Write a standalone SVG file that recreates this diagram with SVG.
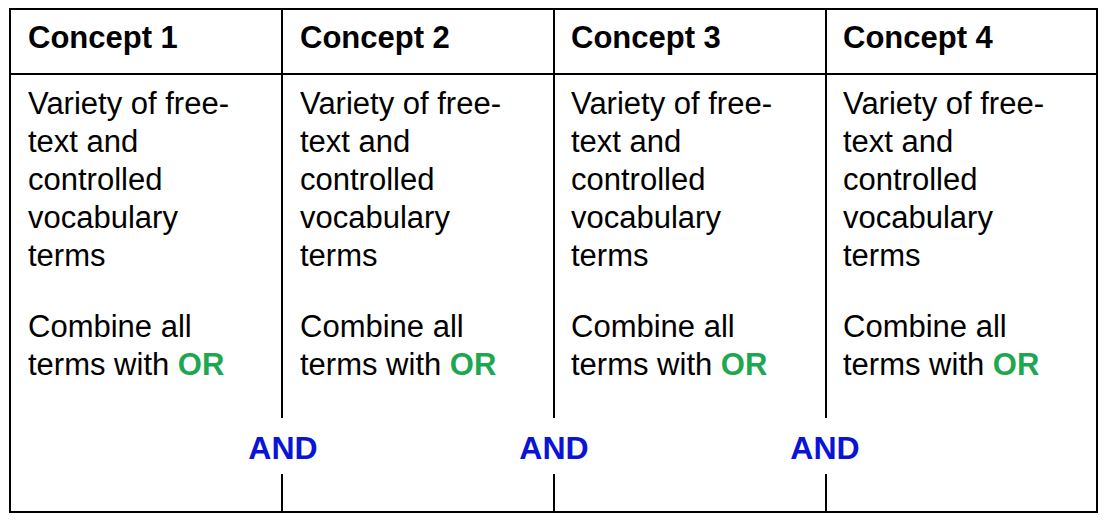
<svg xmlns="http://www.w3.org/2000/svg" width="1112" height="524" viewBox="0 0 1112 524">
<style>
.t{font-family:"Liberation Sans",Arial,sans-serif;font-size:31px;fill:#000}
.h{font-weight:bold}
.or{fill:#1ea650;font-weight:bold}
.and{font-family:"Liberation Sans",Arial,sans-serif;font-size:32px;font-weight:bold;fill:#0a14d8;text-anchor:middle}
.ln{stroke:#000;stroke-width:2;fill:none}
</style>
<rect width="1112" height="524" fill="#fff"/>
<g id="frame">
<rect class="ln" x="10" y="9" width="1087" height="503"/>
<line class="ln" x1="10" y1="74" x2="1097" y2="74"/>
</g>
<g id="connectors">
<line class="ln" x1="282" y1="9" x2="282" y2="418"/><line class="ln" x1="282" y1="474" x2="282" y2="512"/>
<line class="ln" x1="554" y1="9" x2="554" y2="418"/><line class="ln" x1="554" y1="474" x2="554" y2="512"/>
<line class="ln" x1="826" y1="9" x2="826" y2="418"/><line class="ln" x1="826" y1="474" x2="826" y2="512"/>
<text class="and" x="283" y="459">AND</text>
<text class="and" x="554" y="459">AND</text>
<text class="and" x="825" y="459">AND</text>
</g>
<g id="c1" transform="translate(28,0)">
<text class="t h" y="48">Concept 1</text>
<text class="t" y="114">Variety of free-</text><text class="t" y="152">text and</text><text class="t" y="190">controlled</text><text class="t" y="228">vocabulary</text><text class="t" y="266">terms</text>
<text class="t" y="337">Combine all</text><text class="t" y="375">terms with <tspan class="or">OR</tspan></text>
</g>
<g id="c2" transform="translate(300,0)">
<text class="t h" y="48">Concept 2</text>
<text class="t" y="114">Variety of free-</text><text class="t" y="152">text and</text><text class="t" y="190">controlled</text><text class="t" y="228">vocabulary</text><text class="t" y="266">terms</text>
<text class="t" y="337">Combine all</text><text class="t" y="375">terms with <tspan class="or">OR</tspan></text>
</g>
<g id="c3" transform="translate(571,0)">
<text class="t h" y="48">Concept 3</text>
<text class="t" y="114">Variety of free-</text><text class="t" y="152">text and</text><text class="t" y="190">controlled</text><text class="t" y="228">vocabulary</text><text class="t" y="266">terms</text>
<text class="t" y="337">Combine all</text><text class="t" y="375">terms with <tspan class="or">OR</tspan></text>
</g>
<g id="c4" transform="translate(843,0)">
<text class="t h" y="48">Concept 4</text>
<text class="t" y="114">Variety of free-</text><text class="t" y="152">text and</text><text class="t" y="190">controlled</text><text class="t" y="228">vocabulary</text><text class="t" y="266">terms</text>
<text class="t" y="337">Combine all</text><text class="t" y="375">terms with <tspan class="or">OR</tspan></text>
</g>
</svg>
